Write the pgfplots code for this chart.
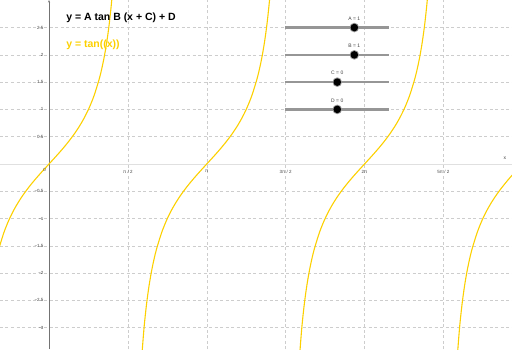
\documentclass[border=0pt]{standalone}
\usepackage{pgfplots}
\pgfplotsset{compat=1.18}
\usepackage{fontspec}
\setmainfont{Liberation Sans}
\usetikzlibrary{arrows.meta}
\definecolor{tanc}{RGB}{252,208,0}
\definecolor{gridc}{RGB}{205,205,205}
\definecolor{sld}{RGB}{150,150,150}
\tikzset{sline/.style={sld,line width=2.6pt},
  slab/.style={anchor=south,font=\fontsize{5}{6}\selectfont,text=black!75,inner sep=0pt}}
\newcommand{\knob}[2]{%
  \fill[black!40] (axis cs:#1,#2) circle[radius=4.8pt];
  \fill[black] (axis cs:#1,#2) circle[radius=3.8pt];}
\begin{document}
\begin{tikzpicture}
\begin{axis}[
  width=512pt,height=349pt,scale only axis,
  xmin=-0.976,xmax=9.22,ymin=-3.39,ymax=3.005,
  axis lines=middle,
  x axis line style={draw=black!12,-},
  y axis line style={draw=black!55,line width=0.6pt,-{Stealth[length=2.5pt,width=2pt]}},
  grid=major,
  major grid style={dashed,dash pattern=on 3pt off 2.5pt,draw=gridc,line width=0.5pt},
  major tick length=0pt,
  xtick={1.5708,3.1416,4.7124,6.2832,7.854},
  xticklabels={π / 2, π, 3π / 2, 2π, 5π / 2},
  ytick={-3,-2.5,-2,-1.5,-1,-0.5,0.5,1,1.5,2,2.5},
  yticklabels={−3,−2.5,−2,−1.5,−1,−0.5,0.5,1,1.5,2,2.5},
  ticklabel style={font=\fontsize{4.5}{5}\selectfont,text=black!75},
  xticklabel style={anchor=north,yshift=-3pt},
  yticklabel style={anchor=east,xshift=-2pt},
  clip=true,
]
\addplot[tanc,line width=1.1pt,smooth] coordinates {
(-1.0,-1.5574)(-0.9,-1.2602)(-0.8,-1.0296)(-0.7,-0.8423)(-0.6,-0.6841)(-0.5,-0.5463)
(-0.4,-0.4228)(-0.3,-0.3093)(-0.2,-0.2027)(-0.1,-0.1003)(0,0)(0.1,0.1003)(0.2,0.2027)
(0.3,0.3093)(0.4,0.4228)(0.5,0.5463)(0.6,0.6841)(0.7,0.8423)(0.8,1.0296)(0.9,1.2602)
(1.0,1.5574)(1.05,1.7433)(1.1,1.9648)(1.15,2.2345)(1.2,2.5722)(1.25,3.0096)(1.3,3.6021)(1.32,3.9030)
};
\addplot[tanc,line width=1.1pt,smooth] coordinates {
(1.8216,-3.9030)(1.8416,-3.6021)(1.8916,-3.0096)(1.9416,-2.5722)(1.9916,-2.2345)(2.0416,-1.9648)
(2.0916,-1.7433)(2.1416,-1.5574)(2.2416,-1.2602)(2.3416,-1.0296)(2.4416,-0.8423)(2.5416,-0.6841)
(2.6416,-0.5463)(2.7416,-0.4228)(2.8416,-0.3093)(2.9416,-0.2027)(3.0416,-0.1003)(3.1416,0)
(3.2416,0.1003)(3.3416,0.2027)(3.4416,0.3093)(3.5416,0.4228)(3.6416,0.5463)(3.7416,0.6841)
(3.8416,0.8423)(3.9416,1.0296)(4.0416,1.2602)(4.1416,1.5574)(4.1916,1.7433)(4.2416,1.9648)
(4.2916,2.2345)(4.3416,2.5722)(4.3916,3.0096)(4.4416,3.6021)(4.4616,3.9030)
};
\addplot[tanc,line width=1.1pt,smooth] coordinates {
(4.9632,-3.9030)(4.9832,-3.6021)(5.0332,-3.0096)(5.0832,-2.5722)(5.1332,-2.2345)(5.1832,-1.9648)
(5.2332,-1.7433)(5.2832,-1.5574)(5.3832,-1.2602)(5.4832,-1.0296)(5.5832,-0.8423)(5.6832,-0.6841)
(5.7832,-0.5463)(5.8832,-0.4228)(5.9832,-0.3093)(6.0832,-0.2027)(6.1832,-0.1003)(6.2832,0)
(6.3832,0.1003)(6.4832,0.2027)(6.5832,0.3093)(6.6832,0.4228)(6.7832,0.5463)(6.8832,0.6841)
(6.9832,0.8423)(7.0832,1.0296)(7.1832,1.2602)(7.2832,1.5574)(7.3332,1.7433)(7.3832,1.9648)
(7.4332,2.2345)(7.4832,2.5722)(7.5332,3.0096)(7.5832,3.6021)(7.6032,3.9030)
};
\addplot[tanc,line width=1.1pt,smooth] coordinates {
(8.1048,-3.9030)(8.1248,-3.6021)(8.1748,-3.0096)(8.2248,-2.5722)(8.2748,-2.2345)(8.3248,-1.9648)
(8.3748,-1.7433)(8.4248,-1.5574)(8.5248,-1.2602)(8.6248,-1.0296)(8.7248,-0.8423)(8.8248,-0.6841)
(8.9248,-0.5463)(9.0248,-0.4228)(9.1248,-0.3093)(9.2248,-0.2027)
};
% labels
\node[anchor=north east,font=\fontsize{4.5}{5}\selectfont,text=black!75,inner sep=1pt] at (axis cs:-0.04,-0.06) {0};
\node[anchor=south,font=\fontsize{5}{6}\selectfont,text=black!75,inner sep=1pt] at (axis cs:9.08,0.06) {x};
\node[anchor=west,font=\bfseries\fontsize{10.5}{12}\selectfont,inner sep=0pt] at (axis cs:0.34,2.67) {y = A tan B (x + C) + D};
\node[anchor=west,font=\bfseries\fontsize{10.5}{12}\selectfont,text=tanc,inner sep=0pt] at (axis cs:0.34,2.18) {y = tan((x))};
% sliders
\draw[sline] (axis cs:4.70,2.5) -- (axis cs:6.77,2.5);
\draw[sline] (axis cs:4.70,2.0) -- (axis cs:6.77,2.0);
\draw[sline] (axis cs:4.70,1.5) -- (axis cs:6.77,1.5);
\draw[sline] (axis cs:4.70,1.0) -- (axis cs:6.77,1.0);
\knob{6.08}{2.5}
\knob{6.08}{2.0}
\knob{5.74}{1.5}
\knob{5.74}{1.0}
\node[slab] at (axis cs:6.08,2.63) {A = 1};
\node[slab] at (axis cs:6.08,2.13) {B = 1};
\node[slab] at (axis cs:5.74,1.63) {C = 0};
\node[slab] at (axis cs:5.74,1.13) {D = 0};
\end{axis}
\pgfresetboundingbox
\useasboundingbox (current axis.south west) rectangle (current axis.north east);
\end{tikzpicture}
\end{document}
